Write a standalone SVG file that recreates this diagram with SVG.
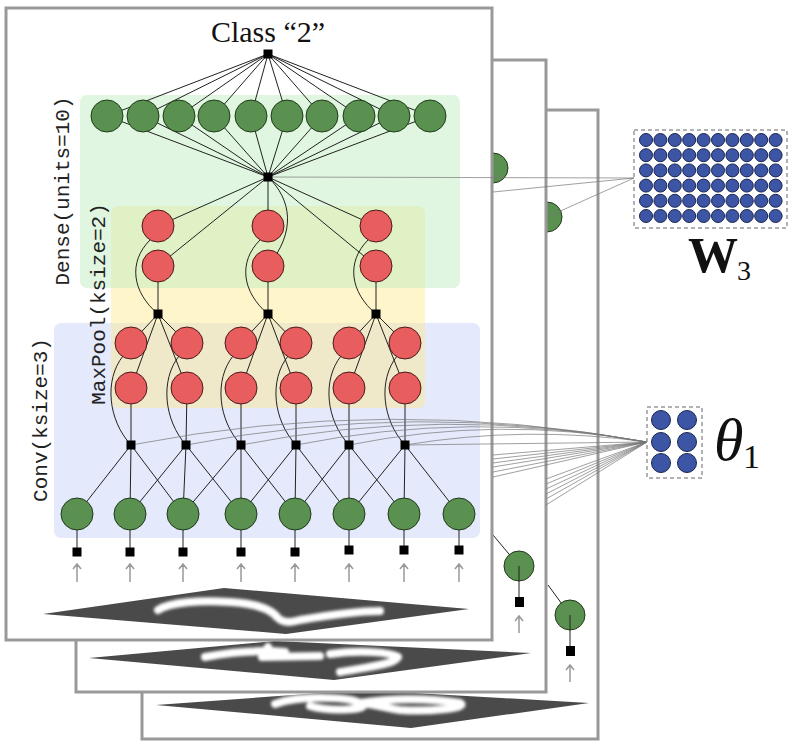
<svg xmlns="http://www.w3.org/2000/svg" width="797" height="756" viewBox="0 0 797 756">
<style>
.frame{fill:#fff;stroke:#999;stroke-width:3}
.plane{fill:#4a4a4a}
.dig{fill:none;stroke:#fff;stroke-width:8;stroke-linecap:round;stroke-linejoin:round;filter:url(#bl)}
.g{fill:#5b9150;stroke:#1f3a1a;stroke-width:1}
.r{fill:#e85d5d;stroke:#4a1a1a;stroke-width:1}
.b{fill:#3d55a5;stroke:#1a2550;stroke-width:1}
.sq{fill:#000}
.c{fill:none;stroke:#222;stroke-width:1}
.t{fill:none;stroke:#777;stroke-width:0.7}
.ar{fill:none;stroke:#999;stroke-width:1.5}
.mono{font-family:"Liberation Mono",monospace;font-size:21px;fill:#222}
</style>
<defs>
<filter id="bl" x="-10%" y="-50%" width="120%" height="200%"><feGaussianBlur stdDeviation="1.6"/></filter>
</defs>
<g id="frame3">
<rect class="frame" x="142" y="110" width="456" height="629"/>
<polygon class="plane" points="156,705 362,690 589,703 411,728"/>
<path class="dig" d="M275,704 C300,695 350,697 360,703 C375,710 330,712 310,706 M360,703 C390,698 430,698 460,703 C470,708 430,712 400,710 C385,708 380,705 360,703"/>
<circle class="g" cx="547" cy="217" r="15"/>
<line class="c" x1="548" y1="585" x2="570" y2="615"/>
<circle class="g" cx="570" cy="615" r="15"/>
<line class="c" x1="570" y1="615" x2="570" y2="651"/>
<rect class="sq" x="566" y="646" width="9" height="10"/>
<path class="ar" d="M570,682 V665 M566,670 L570,665 L574,670"/>
</g>
<g id="frame2">
<rect class="frame" x="76" y="60" width="470" height="632"/>
<polygon class="plane" points="89,658 275,641 531,653 334,680"/>
<path class="dig" d="M205,657 C230,652 260,650 285,652 M268,647 L262,657 M262,657 L320,656 M330,654 C360,650 390,652 398,657 C395,665 360,668 340,672"/>
<circle class="g" cx="493" cy="168" r="15"/>
<line class="c" x1="493" y1="535" x2="519" y2="566"/>
<circle class="g" cx="519" cy="566" r="15"/>
<line class="c" x1="519" y1="566" x2="519" y2="602"/>
<rect class="sq" x="515" y="597" width="9" height="10"/>
<path class="ar" d="M519,633 V616 M515,621 L519,616 L523,621"/>
</g>
<g id="frame1">
<rect class="frame" x="6" y="8" width="486" height="632"/>
<polygon class="plane" points="43,614 224,588 469,609 286,634"/>
<path class="dig" d="M158,610 C170,602 200,600 230,602 C260,604 272,610 278,618 C282,622 290,623 300,620 C330,615 360,611 380,611"/>
</g>
<g id="regions">
<rect x="54" y="323" width="426" height="215" rx="7" fill="#e4e9fb"/>
<rect x="111" y="206" width="314" height="202" rx="7" fill="rgb(255,230,130)" fill-opacity="0.42"/>
<rect x="80" y="95" width="380" height="193" rx="7" fill="rgb(193,237,193)" fill-opacity="0.5"/>
</g>
<g id="labels">
<text x="268" y="42" text-anchor="middle" font-family="Liberation Serif,serif" font-size="30" fill="#111">Class “2”</text>
<text class="mono" transform="translate(69,191) rotate(-90)" text-anchor="middle">Dense(units=10)</text>
<text class="mono" transform="translate(105,304) rotate(-90)" text-anchor="middle">MaxPool(ksize=2)</text>
<text class="mono" transform="translate(47,420) rotate(-90)" text-anchor="middle">Conv(ksize=3)</text>
<text x="688" y="272" font-family="Liberation Serif,serif" font-size="50" font-weight="bold" fill="#111">W</text>
<text x="737" y="280" font-family="Liberation Serif,serif" font-size="28" fill="#111">3</text>
<text x="714" y="460" font-family="Liberation Serif,serif" font-size="60" font-style="italic" fill="#111">θ</text>
<text x="743" y="468" font-family="Liberation Serif,serif" font-size="34" fill="#111">1</text>
</g>
<g id="connectors">
<g class="c">
<path d="M268,54 L107,116 M268,54 L143,116 M268,54 L179,116 M268,54 L214,116 M268,54 L251,116 M268,54 L287,116 M268,54 L322,116 M268,54 L359,116 M268,54 L394,116 M268,54 L430,116"/>
<path d="M268,177 L107,116 M268,177 L143,116 M268,177 L179,116 M268,177 L214,116 M268,177 L251,116 M268,177 L287,116 M268,177 L322,116 M268,177 L359,116 M268,177 L394,116 M268,177 L430,116"/>
<path d="M268,177 L158,226 M268,177 L158,266 M268,177 L268,226 M268,177 C292,200 296,232 268,266 M268,177 L376,226 M268,177 L376,266"/>
<path d="M150,240 C128,262 132,292 158,314 M158,266 L158,314 M260,240 C238,262 242,292 268,314 M268,266 L268,314 M368,240 C346,262 350,292 376,314 M376,266 L376,314"/>
<path d="M158,314 L131,343 M158,314 L187,343 M158,314 L131,388 M158,314 L187,388 M268,314 L241,343 M268,314 L296,343 M268,314 L241,388 M268,314 L296,388 M376,314 L349,343 M376,314 L405,343 M376,314 L349,388 M376,314 L405,388"/>
<path d="M123,356 C104,380 108,420 131,445 M131,388 L131,445 M179,356 C160,380 164,420 186,445 M187,388 L186,445 M233,356 C214,380 218,420 241,445 M241,388 L241,445 M288,356 C269,380 273,420 296,445 M296,388 L296,445 M341,356 C322,380 326,420 349,445 M349,388 L349,445 M397,356 C378,380 382,420 405,445 M405,388 L405,445"/>
<path d="M131,445 L77,514 M131,445 L130,514 M131,445 L183,514 M186,445 L130,514 M186,445 L183,514 M186,445 L241,514 M241,445 L183,514 M241,445 L241,514 M241,445 L295,514 M296,445 L241,514 M296,445 L295,514 M296,445 L349,514 M349,445 L295,514 M349,445 L349,514 M349,445 L404,514 M405,445 L349,514 M405,445 L404,514 M405,445 L459,514"/>
<path d="M77,514 L77,552 M130,514 L130,552 M183,514 L183,552 M241,514 L241,552 M295,514 L295,552 M349,514 L349,550 M404,514 L404,550 M459,514 L459,550"/>
</g>
<g class="t">
<path d="M268,177 L634,178 M493,192 L634,178 M547,217 L634,178"/>
<path d="M131,445 Q389,395 647,442 M186,445 Q416,400 647,442 M241,445 Q444,405 647,442 M296,445 Q471,410 647,442 M349,445 Q498,415 647,442 M405,445 Q526,425 647,442 M405,445 L647,442"/>
<path d="M493,455 L647,442 M493,459 L647,442 M493,463 L647,442 M493,467 L647,442 M493,472 L647,442 M493,477 L647,442 M546,479 L647,442 M546,484 L647,442 M546,489 L647,442 M546,494 L647,442 M546,499 L647,442 M546,505 L647,442"/>
</g>
<path class="ar" d="M77,582 V564 M73,569 L77,564 L81,569 M130,582 V564 M126,569 L130,564 L134,569 M183,582 V564 M179,569 L183,564 L187,569 M241,582 V564 M237,569 L241,564 L245,569 M295,582 V564 M291,569 L295,564 L299,569 M349,582 V564 M345,569 L349,564 L353,569 M404,582 V564 M400,569 L404,564 L408,569 M459,582 V564 M455,569 L459,564 L463,569"/>
</g>
<g id="dense">
<circle class="g" cx="107" cy="116" r="16"/><circle class="g" cx="143" cy="116" r="16"/><circle class="g" cx="179" cy="116" r="16"/><circle class="g" cx="214" cy="116" r="16"/><circle class="g" cx="251" cy="116" r="16"/><circle class="g" cx="287" cy="116" r="16"/><circle class="g" cx="322" cy="116" r="16"/><circle class="g" cx="359" cy="116" r="16"/><circle class="g" cx="394" cy="116" r="16"/><circle class="g" cx="430" cy="116" r="16"/>
<rect class="sq" x="263.5" y="49.5" width="9" height="9"/>
<rect class="sq" x="263.5" y="172.5" width="9" height="9"/>
</g>
<g id="maxpool">
<circle class="r" cx="158" cy="226" r="16"/><circle class="r" cx="158" cy="266" r="16"/>
<circle class="r" cx="268" cy="226" r="16"/><circle class="r" cx="268" cy="266" r="16"/>
<circle class="r" cx="376" cy="226" r="16"/><circle class="r" cx="376" cy="266" r="16"/>
<rect class="sq" x="153.5" y="309.5" width="9" height="9"/><rect class="sq" x="263.5" y="309.5" width="9" height="9"/><rect class="sq" x="371.5" y="309.5" width="9" height="9"/>
</g>
<g id="conv">
<circle class="r" cx="131" cy="343" r="16"/><circle class="r" cx="187" cy="343" r="16"/><circle class="r" cx="241" cy="343" r="16"/><circle class="r" cx="296" cy="343" r="16"/><circle class="r" cx="349" cy="343" r="16"/><circle class="r" cx="405" cy="343" r="16"/>
<circle class="r" cx="131" cy="388" r="16"/><circle class="r" cx="187" cy="388" r="16"/><circle class="r" cx="241" cy="388" r="16"/><circle class="r" cx="296" cy="388" r="16"/><circle class="r" cx="349" cy="388" r="16"/><circle class="r" cx="405" cy="388" r="16"/>
<rect class="sq" x="126.5" y="440.5" width="9" height="9"/><rect class="sq" x="181.5" y="440.5" width="9" height="9"/><rect class="sq" x="236.5" y="440.5" width="9" height="9"/><rect class="sq" x="291.5" y="440.5" width="9" height="9"/><rect class="sq" x="344.5" y="440.5" width="9" height="9"/><rect class="sq" x="400.5" y="440.5" width="9" height="9"/>
</g>
<g id="input">
<circle class="g" cx="77" cy="514" r="16"/><circle class="g" cx="130" cy="514" r="16"/><circle class="g" cx="183" cy="514" r="16"/><circle class="g" cx="241" cy="514" r="16"/><circle class="g" cx="295" cy="514" r="16"/><circle class="g" cx="349" cy="514" r="16"/><circle class="g" cx="404" cy="514" r="16"/><circle class="g" cx="459" cy="514" r="16"/>
<rect class="sq" x="72.5" y="547.5" width="9" height="9"/><rect class="sq" x="125.5" y="547.5" width="9" height="9"/><rect class="sq" x="178.5" y="547.5" width="9" height="9"/><rect class="sq" x="236.5" y="547.5" width="9" height="9"/><rect class="sq" x="290.5" y="547.5" width="9" height="9"/><rect class="sq" x="344.5" y="545.5" width="9" height="9"/><rect class="sq" x="399.5" y="545.5" width="9" height="9"/><rect class="sq" x="454.5" y="545.5" width="9" height="9"/>
</g>
<g id="W3">
<rect x="634" y="130" width="153" height="98" fill="#fff" stroke="#999" stroke-width="1.5" stroke-dasharray="4,3"/>
<g class="b">
<circle cx="646" cy="140" r="6.5"/><circle cx="660.4" cy="140" r="6.5"/><circle cx="674.8" cy="140" r="6.5"/><circle cx="689.2" cy="140" r="6.5"/><circle cx="703.6" cy="140" r="6.5"/><circle cx="718" cy="140" r="6.5"/><circle cx="732.4" cy="140" r="6.5"/><circle cx="746.8" cy="140" r="6.5"/><circle cx="761.2" cy="140" r="6.5"/><circle cx="775.6" cy="140" r="6.5"/>
<circle cx="646" cy="155.2" r="6.5"/><circle cx="660.4" cy="155.2" r="6.5"/><circle cx="674.8" cy="155.2" r="6.5"/><circle cx="689.2" cy="155.2" r="6.5"/><circle cx="703.6" cy="155.2" r="6.5"/><circle cx="718" cy="155.2" r="6.5"/><circle cx="732.4" cy="155.2" r="6.5"/><circle cx="746.8" cy="155.2" r="6.5"/><circle cx="761.2" cy="155.2" r="6.5"/><circle cx="775.6" cy="155.2" r="6.5"/>
<circle cx="646" cy="170.4" r="6.5"/><circle cx="660.4" cy="170.4" r="6.5"/><circle cx="674.8" cy="170.4" r="6.5"/><circle cx="689.2" cy="170.4" r="6.5"/><circle cx="703.6" cy="170.4" r="6.5"/><circle cx="718" cy="170.4" r="6.5"/><circle cx="732.4" cy="170.4" r="6.5"/><circle cx="746.8" cy="170.4" r="6.5"/><circle cx="761.2" cy="170.4" r="6.5"/><circle cx="775.6" cy="170.4" r="6.5"/>
<circle cx="646" cy="185.6" r="6.5"/><circle cx="660.4" cy="185.6" r="6.5"/><circle cx="674.8" cy="185.6" r="6.5"/><circle cx="689.2" cy="185.6" r="6.5"/><circle cx="703.6" cy="185.6" r="6.5"/><circle cx="718" cy="185.6" r="6.5"/><circle cx="732.4" cy="185.6" r="6.5"/><circle cx="746.8" cy="185.6" r="6.5"/><circle cx="761.2" cy="185.6" r="6.5"/><circle cx="775.6" cy="185.6" r="6.5"/>
<circle cx="646" cy="200.8" r="6.5"/><circle cx="660.4" cy="200.8" r="6.5"/><circle cx="674.8" cy="200.8" r="6.5"/><circle cx="689.2" cy="200.8" r="6.5"/><circle cx="703.6" cy="200.8" r="6.5"/><circle cx="718" cy="200.8" r="6.5"/><circle cx="732.4" cy="200.8" r="6.5"/><circle cx="746.8" cy="200.8" r="6.5"/><circle cx="761.2" cy="200.8" r="6.5"/><circle cx="775.6" cy="200.8" r="6.5"/>
<circle cx="646" cy="216" r="6.5"/><circle cx="660.4" cy="216" r="6.5"/><circle cx="674.8" cy="216" r="6.5"/><circle cx="689.2" cy="216" r="6.5"/><circle cx="703.6" cy="216" r="6.5"/><circle cx="718" cy="216" r="6.5"/><circle cx="732.4" cy="216" r="6.5"/><circle cx="746.8" cy="216" r="6.5"/><circle cx="761.2" cy="216" r="6.5"/><circle cx="775.6" cy="216" r="6.5"/>
</g>
</g>
<g id="theta1">
<rect x="647" y="407" width="55" height="71" fill="#fff" stroke="#999" stroke-width="1.5" stroke-dasharray="4,3"/>
<g class="b">
<circle cx="661" cy="420" r="9.5"/><circle cx="687" cy="420" r="9.5"/>
<circle cx="661" cy="442" r="9.5"/><circle cx="687" cy="442" r="9.5"/>
<circle cx="661" cy="463" r="9.5"/><circle cx="687" cy="463" r="9.5"/>
</g>
</g>
</svg>
